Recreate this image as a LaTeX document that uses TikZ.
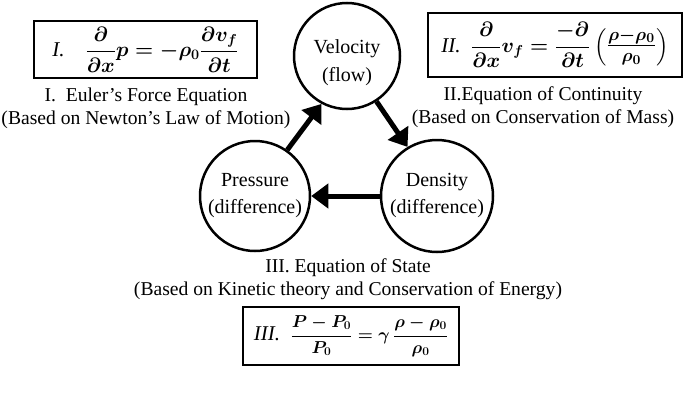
\documentclass[tikz,border=0pt]{standalone}
\usepackage{amsmath}
\usepackage{graphicx}
\usepackage{fontspec}
\setmainfont{Liberation Serif}
\usetikzlibrary{arrows.meta}
\begin{document}
\begin{tikzpicture}[x=1pt,y=-1pt,
  state/.style={circle,draw,line width=2.5pt,inner sep=0pt,align=center,
    font=\fontsize{20}{27}\selectfont},
  eqbox/.style={draw,line width=1.3pt,inner sep=0pt,
    font=\fontsize{21}{25}\selectfont\boldmath},
  capt/.style={align=center,font=\fontsize{19.6}{23}\selectfont},
  flow/.style={line width=5pt,-{Triangle[length=17pt,width=24pt]}}]
\useasboundingbox (0,0) rectangle (685,407);
% states
\node[state,minimum size=106pt] (vel) at (347,56)
  {\raisebox{-11pt}[0pt][0pt]{\begin{tabular}{@{}c@{}}Velocity\\[1pt](flow)\end{tabular}}};
\node[state,minimum size=110pt] (pre) at (255,196) {Pressure\\(difference)};
\node[state,minimum size=112pt] (den) at (437,196) {Density\\(difference)};
% equations
\node[eqbox,minimum width=223pt,minimum height=57pt] (eq1) at (145.5,49.5)
  {\textit{I.}\quad$\dfrac{\partial}{\partial x}p=-\rho_0\dfrac{\partial v_f}{\partial t}$};
\node[eqbox,minimum width=254pt,minimum height=64pt] (eq2) at (555,45)
  {\textit{II.}\enspace$\dfrac{\partial}{\partial x}v_f=\dfrac{-\partial}{\partial t}\left(\vcenter{\hbox{\scalebox{1.25}{$\tfrac{\rho-\rho_0}{\rho_0}$}}}\right)$};
\node[eqbox,minimum width=216pt,minimum height=58pt] (eq3) at (351,336)
  {\textit{III.}\enspace\fontsize{17}{20}\selectfont$\dfrac{P-P_0}{P_0}=\gamma\,\dfrac{\rho-\rho_0}{\rho_0}$};
% captions
\node[capt] (c1) at (146,108) {I.\ \ Euler's Force Equation\\(Based on Newton’s Law of Motion)};
\node[capt] (c2) at (543,107) {II.Equation of Continuity\\(Based on Conservation of Mass)};
\node[capt] (c3) at (348,279) {III. Equation of State\\(Based on Kinetic theory and Conservation of Energy)};
% arrows
\draw[flow] (pre.55) -- (vel.242);
\draw[flow] (vel.303) -- (den.121);
\draw[flow] (den.west) -- (pre.east);
\end{tikzpicture}
\end{document}
